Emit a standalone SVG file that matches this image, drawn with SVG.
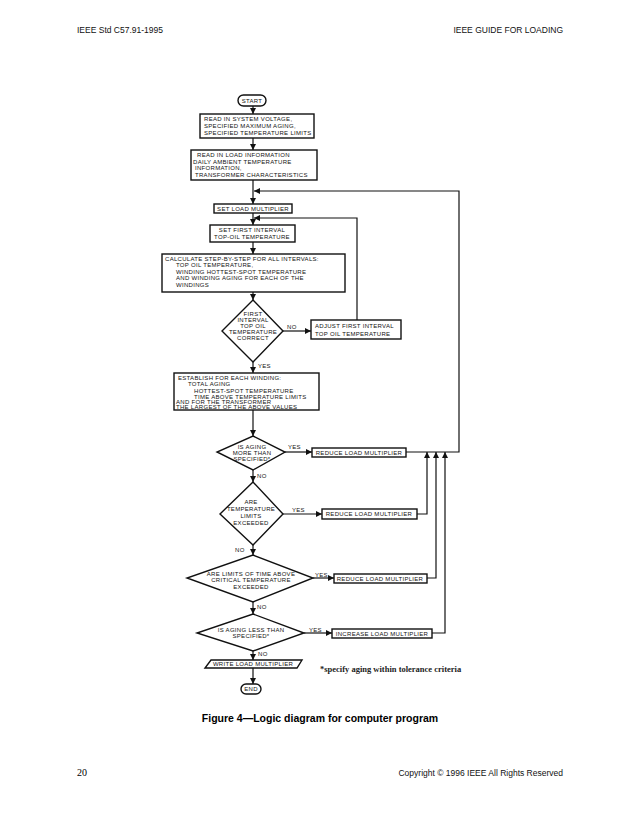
<svg xmlns="http://www.w3.org/2000/svg" width="638" height="825" viewBox="0 0 638 825">
<defs>
<marker id="ah" viewBox="0 0 6 6" refX="6" refY="3" markerWidth="6" markerHeight="6" orient="auto" markerUnits="userSpaceOnUse"><path d="M0,0L6,3L0,6z" fill="#111"/></marker>
<style>
.s{fill:#fff;stroke:#111;stroke-width:1.4}
.t{font-family:"Liberation Sans",Arial,sans-serif;font-size:6px;fill:#111;letter-spacing:0.3px}
.c{stroke:#111;stroke-width:1.2;fill:none}
.h{font-family:"Liberation Sans",Arial,sans-serif;font-size:8.5px;fill:#111}
</style>
</defs>
<rect width="638" height="825" fill="#fff"/>
<text class="h" x="77" y="33">IEEE Std C57.91-1995</text>
<text class="h" x="563" y="33" text-anchor="end">IEEE GUIDE FOR LOADING</text>
<text x="320" y="722" text-anchor="middle" font-family="Liberation Sans,Arial,sans-serif" font-size="10.5" font-weight="bold">Figure 4—Logic diagram for computer program</text>
<text x="77" y="776" font-family="Liberation Serif,serif" font-size="10">20</text>
<text class="h" x="563" y="776" text-anchor="end">Copyright © 1996 IEEE All Rights Reserved</text>

<g id="connectors">
<path class="c" d="M253,106V114" marker-end="url(#ah)"/>
<path class="c" d="M253,138V150" marker-end="url(#ah)"/>
<path class="c" d="M253,180V204" marker-end="url(#ah)"/>
<path class="c" d="M253,213V225" marker-end="url(#ah)"/>
<path class="c" d="M253,242V254" marker-end="url(#ah)"/>
<path class="c" d="M253,292V300" marker-end="url(#ah)"/>
<path class="c" d="M283,331H311" marker-end="url(#ah)"/>
<path class="c" d="M357,320V218H254" marker-end="url(#ah)"/>
<path class="c" d="M253,362V373" marker-end="url(#ah)"/>
<path class="c" d="M253,410V436" marker-end="url(#ah)"/>
<path class="c" d="M285,452H312" marker-end="url(#ah)"/>
<path class="c" d="M406,452H459V191H254" marker-end="url(#ah)"/>
<path class="c" d="M253,470V482" marker-end="url(#ah)"/>
<path class="c" d="M283,514H322" marker-end="url(#ah)"/>
<path class="c" d="M417,514H427V452" marker-end="url(#ah)"/>
<path class="c" d="M253,545V555" marker-end="url(#ah)"/>
<path class="c" d="M313,578H334" marker-end="url(#ah)"/>
<path class="c" d="M427,578H436V452" marker-end="url(#ah)"/>
<path class="c" d="M253,602V614" marker-end="url(#ah)"/>
<path class="c" d="M304,633H332" marker-end="url(#ah)"/>
<path class="c" d="M432,633H445V452" marker-end="url(#ah)"/>
<path class="c" d="M253,651V660" marker-end="url(#ah)"/>
<path class="c" d="M253,668V684" marker-end="url(#ah)"/>
<text class="t" x="287" y="329">NO</text>
<text class="t" x="258" y="368">YES</text>
<text class="t" x="288" y="449">YES</text>
<text class="t" x="257" y="478">NO</text>
<text class="t" x="292" y="512">YES</text>
<text class="t" x="235" y="552">NO</text>
<text class="t" x="315" y="577">YES</text>
<text class="t" x="257" y="609">NO</text>
<text class="t" x="309" y="632">YES</text>
<text class="t" x="258" y="656">NO</text>
</g>

<g id="start"><rect class="s" x="238" y="95" width="28" height="11" rx="5.5"/><text class="t" x="252" y="102.5" text-anchor="middle">START</text></g>
<g id="read1"><rect class="s" x="200" y="114" width="114" height="24"/><text class="t" x="204" y="121">READ IN SYSTEM VOLTAGE,</text><text class="t" x="204" y="128">SPECIFIED MAXIMUM AGING,</text><text class="t" x="204" y="135">SPECIFIED TEMPERATURE LIMITS</text></g>
<g id="read2"><rect class="s" x="191" y="150" width="126" height="30"/><text class="t" x="197" y="157">READ IN LOAD INFORMATION</text><text class="t" x="193" y="163.5">DAILY AMBIENT TEMPERATURE</text><text class="t" x="195" y="170">INFORMATION,</text><text class="t" x="195" y="176.5">TRANSFORMER CHARACTERISTICS</text></g>
<g id="setload"><rect class="s" x="214" y="204" width="78" height="9"/><text class="t" x="253" y="210.8" text-anchor="middle">SET LOAD MULTIPLIER</text></g>
<g id="setfirst"><rect class="s" x="210" y="225" width="85" height="17"/><text class="t" x="252" y="232" text-anchor="middle">SET FIRST INTERVAL</text><text class="t" x="252" y="239" text-anchor="middle">TOP-OIL TEMPERATURE</text></g>
<g id="calc"><rect class="s" x="162" y="254" width="183" height="38"/><text class="t" x="165" y="260.5">CALCULATE STEP-BY-STEP FOR ALL INTERVALS:</text><text class="t" x="176" y="267">TOP OIL TEMPERATURE,</text><text class="t" x="176" y="273.5">WINDING HOTTEST-SPOT TEMPERATURE</text><text class="t" x="176" y="280">AND WINDING AGING FOR EACH OF THE</text><text class="t" x="176" y="286.5">WINDINGS</text></g>
<g id="d1"><path class="s" d="M253,300L283,331L253,362L222,331Z"/><text class="t" text-anchor="middle" x="253"><tspan x="253" y="316">FIRST</tspan><tspan x="253" y="322">INTERVAL</tspan><tspan x="253" y="328">TOP OIL</tspan><tspan x="253" y="334">TEMPERATURE</tspan><tspan x="253" y="340">CORRECT</tspan></text></g>
<g id="adjust"><rect class="s" x="311" y="320" width="90" height="19"/><text class="t" x="315" y="328">ADJUST FIRST INTERVAL</text><text class="t" x="315" y="335.5">TOP OIL TEMPERATURE</text></g>
<g id="establish"><rect class="s" x="174" y="373" width="145" height="37"/><text class="t" x="178" y="380">ESTABLISH FOR EACH WINDING:</text><text class="t" x="188" y="386">TOTAL AGING</text><text class="t" x="194" y="392.5">HOTTEST-SPOT TEMPERATURE</text><text class="t" x="194" y="398.5">TIME ABOVE TEMPERATURE LIMITS</text><text class="t" x="176" y="404">AND FOR THE TRANSFORMER</text><text class="t" x="176" y="409">THE LARGEST OF THE ABOVE VALUES</text></g>
<g id="d2"><path class="s" d="M253,436L285,452L253,470L217,452Z"/><text class="t" text-anchor="middle"><tspan x="252" y="449">IS AGING</tspan><tspan x="252" y="455">MORE THAN</tspan><tspan x="252" y="461">SPECIFIED*</tspan></text></g>
<g id="r1"><rect class="s" x="312" y="448" width="94" height="9"/><text class="t" x="359" y="454.8" text-anchor="middle">REDUCE LOAD MULTIPLIER</text></g>
<g id="d3"><path class="s" d="M253,482L283,514L253,545L220,514Z"/><text class="t" text-anchor="middle"><tspan x="251" y="504">ARE</tspan><tspan x="251" y="511">TEMPERATURE</tspan><tspan x="251" y="518">LIMITS</tspan><tspan x="251" y="525">EXCEEDED</tspan></text></g>
<g id="r2"><rect class="s" x="322" y="509" width="95" height="10"/><text class="t" x="369" y="516.3" text-anchor="middle">REDUCE LOAD MULTIPLIER</text></g>
<g id="d4"><path class="s" d="M253,555L313,578L253,602L187,578Z"/><text class="t" text-anchor="middle"><tspan x="251" y="576">ARE LIMITS OF TIME ABOVE</tspan><tspan x="251" y="582">CRITICAL TEMPERATURE</tspan><tspan x="251" y="589">EXCEEDED</tspan></text></g>
<g id="r3"><rect class="s" x="334" y="574" width="93" height="9"/><text class="t" x="380" y="580.8" text-anchor="middle">REDUCE LOAD MULTIPLIER</text></g>
<g id="d5"><path class="s" d="M253,614L304,633L253,651L197,633Z"/><text class="t" text-anchor="middle"><tspan x="251" y="632">IS AGING LESS THAN</tspan><tspan x="251" y="638">SPECIFIED*</tspan></text></g>
<g id="r4"><rect class="s" x="332" y="629" width="100" height="9"/><text class="t" x="382" y="635.8" text-anchor="middle">INCREASE LOAD MULTIPLIER</text></g>
<g id="write"><path class="s" d="M211,660H302L297,668H205Z"/><text class="t" x="253" y="666.3" text-anchor="middle">WRITE LOAD MULTIPLIER</text></g>
<g id="end"><rect class="s" x="241" y="684" width="20" height="10" rx="5"/><text class="t" x="251" y="691.3" text-anchor="middle">END</text></g>
<text x="320" y="672" font-family="Liberation Serif,serif" font-size="8.5" font-weight="bold" fill="#222">*specify aging within tolerance criteria</text>
</svg>
